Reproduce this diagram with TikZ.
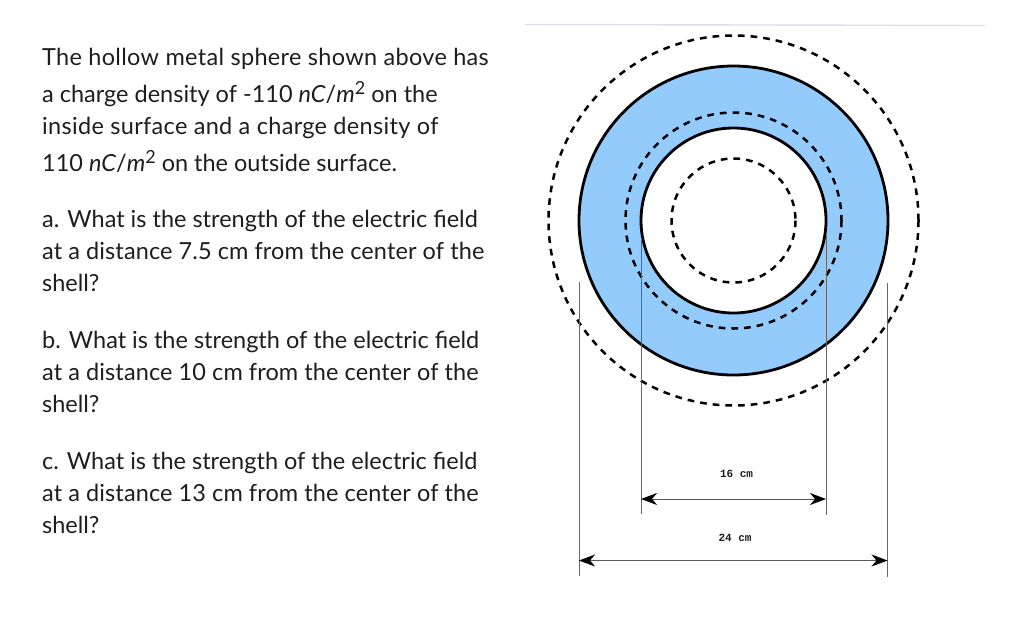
\documentclass[tikz,border=0pt]{standalone}
\usepackage{fontspec}
\setmainfont{Lato}
\setmonofont{Liberation Mono}
\usetikzlibrary{arrows.meta}
\definecolor{shell}{RGB}{147,203,253}
\definecolor{topline}{RGB}{222,222,238}
\definecolor{ink}{RGB}{30,30,30}
\newfontfamily\wideA[LetterSpace=1.4]{Lato}
\newfontfamily\wideB[LetterSpace=0.45]{Lato}
\tikzset{
 txt/.style={anchor=base west,inner sep=0pt,font=\fontsize{23.5}{23.5}\selectfont,text=ink},
 dashring/.style={draw=black,line width=2.5pt,dash pattern=on 6.7pt off 6pt},
 solidring/.style={draw=black,line width=2.8pt},
 dimline/.style={draw=black!60,line width=0.9pt},
 dimarrow/.style={draw=black!65,line width=1pt,{Stealth[length=16pt,width=12pt,inset=5pt,color=black]}-{Stealth[length=16pt,width=12pt,inset=5pt,color=black]}},
 dimlabel/.style={inner sep=0pt,font=\ttfamily\bfseries\fontsize{11}{11}\selectfont,text=ink}
}
\begin{document}
\begin{tikzpicture}[x=1pt,y=-1pt]
\useasboundingbox[fill=white] (0,0) rectangle (1024,633);
\coordinate (c) at (733.5,220.5);
\coordinate (tl) at (525,24.5); \coordinate (tr) at (985,25.5);
\draw[topline,line width=1.4pt] (tl) -- (tr);
\fill[shell,even odd rule] (c) circle[radius=154.5] (c) circle[radius=92.5];
\draw[dashring] (c) circle[radius=185];
\draw[dashring] (c) circle[radius=108];
\draw[dashring] (c) circle[radius=62];
\draw[solidring] (c) circle[radius=154.5];
\draw[solidring] (c) circle[radius=92.5];
\coordinate (a1) at (641,238); \coordinate (a2) at (641,514);
\coordinate (b1) at (826,236); \coordinate (b2) at (826,515);
\coordinate (p1) at (579,282); \coordinate (p2) at (579,576);
\coordinate (q1) at (887.5,283); \coordinate (q2) at (887.5,577);
\coordinate (ia) at (641,499); \coordinate (ib) at (826,499);
\coordinate (oa) at (579,560.5); \coordinate (ob) at (887.5,560.5);
\draw[dimline] (a1) -- (a2);
\draw[dimline] (b1) -- (b2);
\draw[dimline] (p1) -- (p2);
\draw[dimline] (q1) -- (q2);
\draw[dimarrow] (ia) -- (ib);
\draw[dimarrow] (oa) -- (ob);
\node[dimlabel] (l16) at (736.5,474) {16 cm};
\node[dimlabel] (l24) at (735,538) {24 cm};
\node[txt] (t1) at (42,65) {\wideA The hollow metal sphere shown above has};
\node[txt] (t2) at (42,102) {a charge density of -110 \textit{nC}/\textit{m}\raisebox{8pt}{\fontsize{18}{18}\selectfont 2} on the};
\node[txt] (t3) at (42,134) {\wideA inside surface and a charge density of};
\node[txt] (t4) at (42,171) {110 \textit{nC}/\textit{m}\raisebox{8pt}{\fontsize{18}{18}\selectfont 2} on the outside surface.};
\node[txt] (t5) at (42,227) {a. What is the strength of the electric field};
\node[txt] (t6) at (42,259) {\wideB at a distance 7.5 cm from the center of the};
\node[txt] (t7) at (42,291) {shell?};
\node[txt] (t8) at (42,348) {b. What is the strength of the electric field};
\node[txt] (t9) at (42,380) {\wideB at a distance 10 cm from the center of the};
\node[txt] (t10) at (42,412) {shell?};
\node[txt] (t11) at (42,469) {c. What is the strength of the electric field};
\node[txt] (t12) at (42,501) {\wideB at a distance 13 cm from the center of the};
\node[txt] (t13) at (42,533) {shell?};
\end{tikzpicture}
\end{document}
